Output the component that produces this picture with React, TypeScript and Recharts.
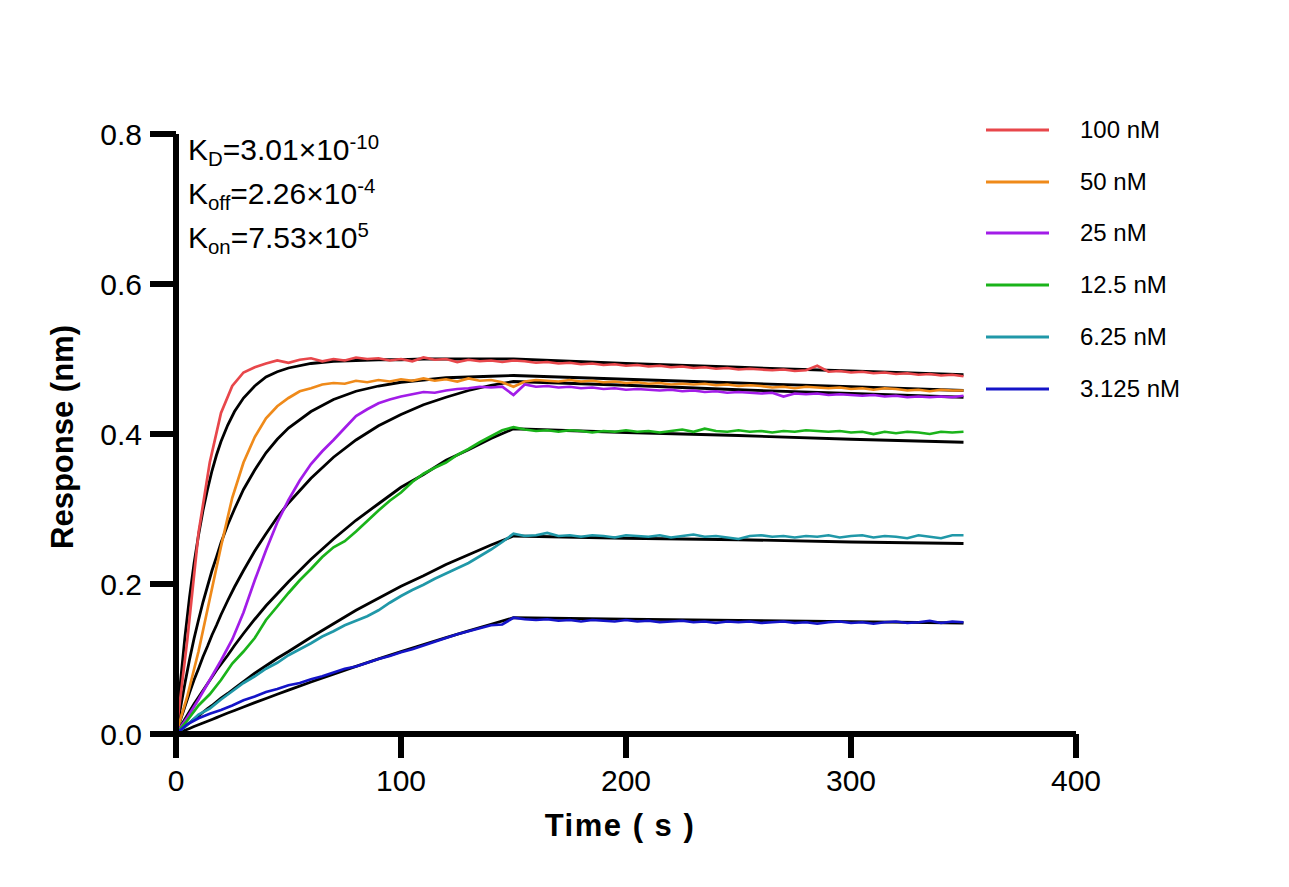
import React from "react"
import { LineChart, Line, XAxis, YAxis } from "recharts"

// measured curves, sampled every 5 s
const timeData = [
  0, 5, 10, 15, 20, 25, 30, 35, 40, 45, 50, 55, 60, 65, 70, 75, 80, 85, 90, 95,
  100, 105, 110, 115, 120, 125, 130, 135, 140, 145, 150, 155, 160, 165, 170, 175, 180, 185, 190, 195,
  200, 205, 210, 215, 220, 225, 230, 235, 240, 245, 250, 255, 260, 265, 270, 275, 280, 285, 290, 295,
  300, 305, 310, 315, 320, 325, 330, 335, 340, 345, 350,
]

const red100 = [
  0, 0.125, 0.268, 0.362, 0.428, 0.464, 0.482, 0.489, 0.494, 0.498, 0.495, 0.499, 0.501, 0.497, 0.5, 0.498, 0.502, 0.5, 0.501, 0.498,
  0.5, 0.497, 0.502, 0.499, 0.5, 0.496, 0.499, 0.497, 0.498, 0.496, 0.498, 0.497, 0.495, 0.496, 0.494, 0.495, 0.493, 0.494, 0.492, 0.493,
  0.491, 0.492, 0.49, 0.491, 0.489, 0.49, 0.488, 0.489, 0.487, 0.488, 0.486, 0.487, 0.486, 0.485, 0.486, 0.484, 0.485, 0.491, 0.483, 0.484,
  0.482, 0.483, 0.481, 0.482, 0.48, 0.481, 0.479, 0.48, 0.478, 0.479, 0.477,
]
const orange50 = [
  0, 0.05, 0.11, 0.18, 0.25, 0.315, 0.362, 0.396, 0.421, 0.437, 0.448, 0.457, 0.461, 0.466, 0.468, 0.467, 0.471, 0.469, 0.472, 0.47,
  0.473, 0.471, 0.474, 0.471, 0.473, 0.47, 0.474, 0.471, 0.472, 0.469, 0.463, 0.47, 0.472, 0.471, 0.47, 0.472, 0.47, 0.471, 0.469, 0.47,
  0.468, 0.469, 0.467, 0.468, 0.466, 0.467, 0.466, 0.467, 0.465, 0.466, 0.464, 0.465, 0.464, 0.462, 0.463, 0.461, 0.463, 0.462, 0.461, 0.462,
  0.46, 0.461, 0.459, 0.461, 0.46, 0.458, 0.459, 0.457, 0.459, 0.458, 0.458,
]
const purple25 = [
  0, 0.022, 0.046, 0.072, 0.098, 0.126, 0.162, 0.205, 0.245, 0.282, 0.312, 0.338, 0.36, 0.377, 0.392, 0.408, 0.424, 0.433, 0.441, 0.446,
  0.45, 0.453, 0.456, 0.455, 0.458, 0.46, 0.461, 0.463, 0.462, 0.463, 0.452, 0.466, 0.463, 0.464, 0.462, 0.463, 0.461, 0.462, 0.46, 0.461,
  0.459, 0.46, 0.459, 0.458, 0.459, 0.457, 0.458, 0.456, 0.457, 0.455, 0.456, 0.455, 0.454, 0.455, 0.45, 0.454, 0.453, 0.454, 0.452, 0.453,
  0.452, 0.451, 0.452, 0.45, 0.451, 0.449, 0.45, 0.449, 0.45, 0.449, 0.451,
]
const green12 = [
  0, 0.018, 0.038, 0.053, 0.072, 0.094, 0.11, 0.128, 0.152, 0.17, 0.188, 0.205, 0.22, 0.236, 0.249, 0.257, 0.27, 0.284, 0.298, 0.311,
  0.322, 0.336, 0.347, 0.355, 0.362, 0.372, 0.38, 0.389, 0.397, 0.405, 0.409, 0.406, 0.404, 0.405, 0.403, 0.405, 0.404, 0.402, 0.404, 0.403,
  0.405, 0.403, 0.404, 0.402, 0.404, 0.406, 0.403, 0.407, 0.404, 0.403, 0.405, 0.403, 0.404, 0.402, 0.404, 0.403, 0.405, 0.404, 0.403, 0.404,
  0.402, 0.403, 0.4, 0.403, 0.401, 0.403, 0.402, 0.4, 0.403, 0.402, 0.403,
]
const teal6 = [
  0, 0.012, 0.026, 0.034, 0.046, 0.057, 0.068, 0.077, 0.087, 0.095, 0.105, 0.113, 0.121, 0.13, 0.137, 0.145, 0.151, 0.157, 0.165, 0.175,
  0.184, 0.192, 0.199, 0.207, 0.214, 0.221, 0.228, 0.237, 0.246, 0.256, 0.267, 0.264, 0.265, 0.268, 0.264, 0.265, 0.263, 0.265, 0.264, 0.262,
  0.265, 0.264, 0.263, 0.265, 0.262, 0.264, 0.266, 0.263, 0.264, 0.262, 0.26, 0.264, 0.265, 0.263, 0.264, 0.262, 0.264, 0.263, 0.265, 0.262,
  0.264, 0.265, 0.262, 0.264, 0.263, 0.261, 0.265, 0.263, 0.261, 0.265, 0.265,
]
const blue3 = [
  0, 0.013, 0.021, 0.027, 0.032, 0.038, 0.045, 0.05, 0.056, 0.06, 0.065, 0.068, 0.073, 0.077, 0.082, 0.087, 0.09, 0.095, 0.1, 0.104,
  0.109, 0.113, 0.118, 0.123, 0.128, 0.133, 0.137, 0.141, 0.145, 0.146, 0.155, 0.153, 0.152, 0.153, 0.151, 0.152, 0.15, 0.152, 0.151, 0.15,
  0.152, 0.15, 0.151, 0.149, 0.15, 0.151, 0.149, 0.15, 0.148, 0.15, 0.149, 0.15, 0.148, 0.149, 0.15, 0.148, 0.149, 0.147, 0.149, 0.15,
  0.148, 0.149, 0.147, 0.149, 0.15, 0.148, 0.149, 0.151, 0.148, 0.15, 0.149,
]

// fitted (black) curves
const timeFit = [0, 2, 4, 6, 8, 10, 12, 14, 16, 18, 20, 23, 26, 30, 35, 40, 45, 50, 60, 70, 80, 90, 100, 110, 120, 130, 140, 150, 200, 250, 300, 350]
const fit100 = [0, 0.07, 0.13, 0.182, 0.227, 0.265, 0.298, 0.326, 0.351, 0.372, 0.39, 0.412, 0.43, 0.448, 0.464, 0.476, 0.483, 0.488, 0.494, 0.497, 0.498, 0.499, 0.499, 0.5, 0.5, 0.5, 0.5, 0.5, 0.494, 0.489, 0.484, 0.479]
const fit50 = [0, 0.035, 0.068, 0.099, 0.127, 0.152, 0.176, 0.197, 0.218, 0.236, 0.255, 0.279, 0.3, 0.326, 0.352, 0.375, 0.393, 0.408, 0.43, 0.446, 0.457, 0.464, 0.469, 0.472, 0.475, 0.476, 0.477, 0.478, 0.473, 0.468, 0.463, 0.458]
const fit25 = [0, 0.019, 0.037, 0.055, 0.072, 0.087, 0.103, 0.117, 0.132, 0.145, 0.159, 0.178, 0.196, 0.218, 0.244, 0.267, 0.289, 0.308, 0.341, 0.369, 0.392, 0.411, 0.426, 0.439, 0.449, 0.458, 0.465, 0.47, 0.465, 0.459, 0.454, 0.449]
const fit12 = [0, 0.01, 0.02, 0.03, 0.04, 0.049, 0.058, 0.067, 0.076, 0.085, 0.093, 0.105, 0.118, 0.134, 0.153, 0.171, 0.187, 0.203, 0.233, 0.26, 0.285, 0.307, 0.329, 0.346, 0.365, 0.379, 0.394, 0.407, 0.402, 0.398, 0.393, 0.389]
const fit6 = [0, 0.005, 0.01, 0.015, 0.02, 0.024, 0.029, 0.034, 0.038, 0.043, 0.048, 0.054, 0.061, 0.07, 0.081, 0.091, 0.101, 0.11, 0.129, 0.147, 0.165, 0.181, 0.197, 0.211, 0.226, 0.239, 0.252, 0.264, 0.261, 0.259, 0.256, 0.254]
const fit3 = [0, 0.0025, 0.005, 0.0074, 0.0099, 0.0123, 0.0147, 0.017, 0.0194, 0.0218, 0.0243, 0.0279, 0.0314, 0.036, 0.0418, 0.0474, 0.053, 0.0585, 0.0693, 0.0799, 0.0901, 0.1001, 0.1098, 0.1193, 0.1286, 0.1375, 0.1463, 0.155, 0.1533, 0.1515, 0.1498, 0.148]

const seriesNames = ["100 nM", "50 nM", "25 nM", "12.5 nM", "6.25 nM", "3.125 nM"]
const seriesColors = ["#E8474B", "#EF8A1A", "#A21CE8", "#1AB31A", "#2098A8", "#1414C8"]
const seriesKeys = ["c100", "c50", "c25", "c12", "c6", "c3"]

const xTicks = [0, 100, 200, 300, 400]
const yTicks = [0, 0.2, 0.4, 0.6, 0.8]

const measured = [red100, orange50, purple25, green12, teal6, blue3]
const fitted = [fit100, fit50, fit25, fit12, fit6, fit3]

const dataRows = timeData.map((t, i) => {
  const row: Record<string, number> = { t }
  seriesKeys.forEach((k, s) => (row[k] = measured[s][i]))
  return row
})
const fitRows = timeFit.map((t, i) => {
  const row: Record<string, number> = { t }
  seriesKeys.forEach((k, s) => (row[k] = fitted[s][i]))
  return row
})

const FONT = "Arial, 'Liberation Sans', Helvetica, sans-serif"

const subStyle: React.CSSProperties = { fontSize: "0.68em", position: "relative", top: "0.3em", lineHeight: 0 }
const supStyle: React.CSSProperties = { fontSize: "0.68em", position: "relative", top: "-0.55em", lineHeight: 0 }

export default function App() {
  return (
    <div style={{ position: "absolute", left: 0, top: 0, width: 1289, height: 887, background: "#fff", fontFamily: FONT }}>
      <LineChart width={1289} height={887} margin={{ top: 134, right: 213, bottom: 93, left: 96 }}>
        <XAxis
          type="number"
          dataKey="t"
          domain={[0, 400]}
          ticks={xTicks}
          height={60}
          axisLine={{ stroke: "#000", strokeWidth: 6 }}
          tickLine={{ stroke: "#000", strokeWidth: 6 }}
          tickSize={24}
          tickMargin={12}
          tick={{ fill: "#000", fontSize: 30, fontFamily: FONT }}
          allowDataOverflow
        />
        <YAxis
          type="number"
          domain={[0, 0.8]}
          ticks={yTicks}
          width={80}
          axisLine={{ stroke: "#000", strokeWidth: 6 }}
          tickLine={{ stroke: "#000", strokeWidth: 6 }}
          tickSize={26}
          tickMargin={8}
          tickFormatter={(v: number) => v.toFixed(1)}
          tick={{ fill: "#000", fontSize: 30, fontFamily: FONT }}
          allowDataOverflow
        />
        {seriesKeys.map((k) => (
          <Line
            key={"fit-" + k}
            data={fitRows}
            dataKey={k}
            type="linear"
            stroke="#000"
            strokeWidth={2.8}
            dot={false}
            isAnimationActive={false}
            legendType="none"
          />
        ))}
        {seriesKeys.map((k, i) => (
          <Line
            key={k}
            data={dataRows}
            dataKey={k}
            name={seriesNames[i]}
            type="linear"
            stroke={seriesColors[i]}
            strokeWidth={2.7}
            dot={false}
            isAnimationActive={false}
          />
        ))}
      </LineChart>

      {/* legend */}
      <div style={{ position: "absolute", left: 986, top: 104 }}>
        {seriesNames.map((name, i) => (
          <div key={name} style={{ height: 51.8, display: "flex", alignItems: "center" }}>
            <svg width={63} height={4} style={{ display: "block" }}>
              <line x1={0} y1={2} x2={63} y2={2} stroke={seriesColors[i]} strokeWidth={3} />
            </svg>
            <span style={{ marginLeft: 31, fontSize: 24, color: "#000", whiteSpace: "nowrap" }}>{name}</span>
          </div>
        ))}
      </div>

      <div style={{ position: "absolute", left: 188, top: 128, fontSize: 30, color: "#000", lineHeight: "44px", whiteSpace: "nowrap" }}>
        <div style={{ height: 44 }}>
          K<span style={subStyle}>D</span>=3.01×10<span style={supStyle}>-10</span>
        </div>
        <div style={{ height: 44 }}>
          K<span style={subStyle}>off</span>=2.26×10<span style={supStyle}>-4</span>
        </div>
        <div style={{ height: 44 }}>
          K<span style={subStyle}>on</span>=7.53×10<span style={supStyle}>5</span>
        </div>
      </div>

      <div
        style={{
          position: "absolute",
          left: 63,
          top: 437,
          transform: "translate(-50%, -50%) rotate(-90deg)",
          fontSize: 31,
          fontWeight: "bold",
          whiteSpace: "nowrap",
          color: "#000",
        }}
      >
        Response (nm)
      </div>
      <div
        style={{
          position: "absolute",
          left: 620,
          top: 826,
          transform: "translate(-50%, -50%)",
          fontSize: 31,
          fontWeight: "bold",
          letterSpacing: 1.5,
          whiteSpace: "nowrap",
          color: "#000",
        }}
      >
        Time ( s )
      </div>
    </div>
  )
}
